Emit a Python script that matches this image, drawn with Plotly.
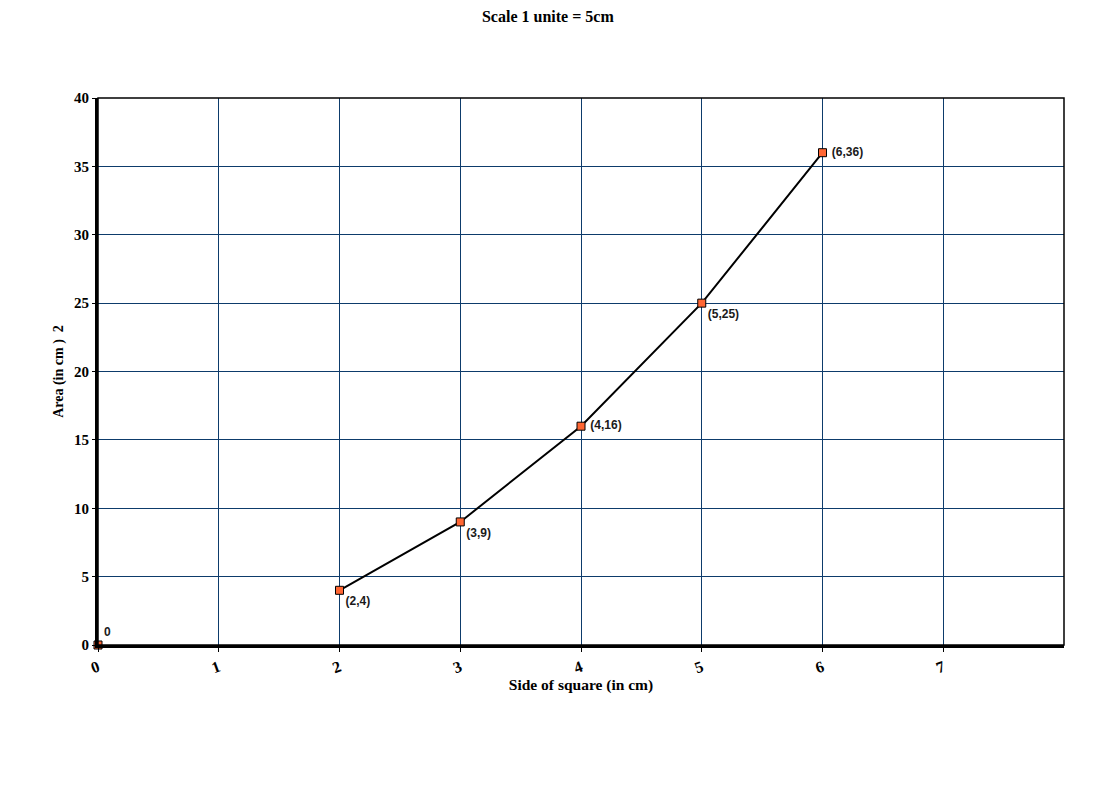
import plotly.graph_objects as go

side = [0, 2, 3, 4, 5, 6]
area = [0, 4, 9, 16, 25, 36]
point_labels = ["0", "(2,4)", "(3,9)", "(4,16)", "(5,25)", "(6,36)"]
label_pos = ["top right", "bottom right", "bottom right", "middle right", "bottom right", "middle right"]
x_ticks = [0, 1, 2, 3, 4, 5, 6, 7]
y_ticks = [0, 5, 10, 15, 20, 25, 30, 35, 40]

grid_col = "#0d3b6b"
serif = "Liberation Serif, Times New Roman, serif"
sans = "Liberation Sans, Arial, sans-serif"

fig = go.Figure()
fig.add_trace(go.Scatter(
    x=side[1:], y=area[1:], mode="lines",
    line=dict(color="black", width=2), hoverinfo="skip", showlegend=False,
))
fig.add_trace(go.Scatter(
    x=side, y=area, mode="markers+text",
    marker=dict(symbol="square", size=8, color="#ff6633", line=dict(color="black", width=1)),
    text=[f"<b>&nbsp;{t}</b>" if p == "middle right" else f"<b>{t}</b>" for t, p in zip(point_labels, label_pos)],
    textposition=label_pos,
    textfont=dict(family=sans, size=12, color="#1a1a1a"),
    cliponaxis=False, showlegend=False,
))

fig.update_layout(
    width=1095, height=805,
    margin=dict(l=90, r=39, t=90, b=168),
    paper_bgcolor="white", plot_bgcolor="white",
    title=dict(text="<b>Scale 1 unite = 5cm</b>", x=0.493, xanchor="center", y=0.996, yanchor="top",
               font=dict(family=serif, size=16, color="black")),
    font=dict(family=serif, color="black"),
    xaxis=dict(
        range=[0, 8], tickvals=x_ticks, ticktext=[f"<b>{v}</b>" for v in x_ticks],
        tickangle=-20, tickfont=dict(family=serif, size=16, color="black"),
        showgrid=True, gridcolor=grid_col, gridwidth=1,
        zeroline=False, showline=True, linecolor="black", linewidth=3,
        ticks="outside", ticklen=4, tickcolor="black",
        title=dict(text="<b>Side of square (in cm)</b>", font=dict(family=serif, size=15.5, color="black"), standoff=4),
    ),
    yaxis=dict(
        range=[0, 40], tickvals=y_ticks, ticktext=[f"<b>{v}</b>" for v in y_ticks],
        tickfont=dict(family=serif, size=15, color="black"),
        showgrid=True, gridcolor=grid_col, gridwidth=1,
        zeroline=False, showline=True, linecolor="black", linewidth=3,
        ticks="outside", ticklen=3, tickcolor="black",
        title=dict(text="<b>Area (in cm )  2</b>", font=dict(family=serif, size=14, color="black"), standoff=8),
    ),
    shapes=[dict(type="rect", xref="paper", yref="paper", x0=0, y0=0, x1=1, y1=1,
                 line=dict(color="black", width=1.5), layer="above")],
)

fig.write_html("out.html")
